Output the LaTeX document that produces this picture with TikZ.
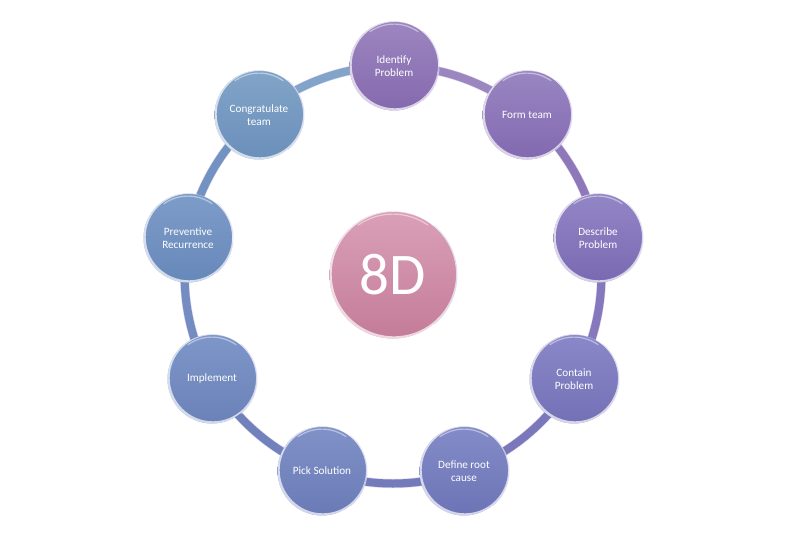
\documentclass[tikz,border=0pt]{standalone}
\usepackage{fontspec}
\setmainfont{Carlito}
\usetikzlibrary{backgrounds}
\definecolor{cIdT}{HTML}{9C86C0}\definecolor{cIdB}{HTML}{8569AE}
\definecolor{cFoT}{HTML}{9A86C2}\definecolor{cFoB}{HTML}{8269B0}
\definecolor{cDeT}{HTML}{9386C6}\definecolor{cDeB}{HTML}{7A69B2}
\definecolor{cCoT}{HTML}{8A88C8}\definecolor{cCoB}{HTML}{7470B6}
\definecolor{cRoT}{HTML}{838CC8}\definecolor{cRoB}{HTML}{6D74B6}
\definecolor{cPiT}{HTML}{8092C8}\definecolor{cPiB}{HTML}{6A7AB6}
\definecolor{cImT}{HTML}{7E96C8}\definecolor{cImB}{HTML}{6A82B8}
\definecolor{cPrT}{HTML}{7E9CC8}\definecolor{cPrB}{HTML}{6688BA}
\definecolor{cCgT}{HTML}{82A4C8}\definecolor{cCgB}{HTML}{6A8FBA}
\definecolor{cHubT}{HTML}{DAA0B8}\definecolor{cHubB}{HTML}{C47C98}
\definecolor{rimLight}{HTML}{DAD6F0}
\newcommand{\shine}[2]{%
  \fill[white,opacity=.7,even odd rule] (#1.center) circle[radius=#2]
    ([shift={(.9,-.9)}]#1.center) circle[radius=#2-1.3];
  \draw[rimarc,line width=1.2pt,opacity=.45] (#1.center) ++(305:#2-2.6) arc[start angle=305,end angle=235,radius=#2-2.6];
  \draw[rimarc,line width=1pt,draw=rimLight,opacity=.8] (#1.center) ++(-50:#2+.5) arc[start angle=-50,end angle=50,radius=#2+.5];
}
\tikzset{
  x=1pt,y=-1pt,
  disc/.style n args={2}{circle,minimum size=89pt,inner sep=0pt,
    top color=#1,bottom color=#2,text=white,align=center,
    font=\fontsize{11.2}{13}\selectfont},
  hub/.style={disc={cHubT}{cHubB},minimum size=127pt,font=\fontsize{59}{59}\selectfont},
  link/.style={line width=.6pt,double distance=8pt,draw=rimLight,line cap=butt,bend left=20,looseness=.88},
  rimarc/.style={draw=white,line cap=round},
}
\begin{document}
\begin{tikzpicture}
\useasboundingbox (0,0) rectangle (800,533);
\node[disc={cIdT}{cIdB}] (n1) at (394,66) {Identify\\Problem};
\node[disc={cFoT}{cFoB}] (n2) at (527,115) {Form team};
\node[disc={cDeT}{cDeB}] (n3) at (598,238) {Describe\\Problem};
\node[disc={cCoT}{cCoB}] (n4) at (574,379) {Contain\\Problem};
\node[disc={cRoT}{cRoB}] (n5) at (464,471) {Define root\\cause};
\node[disc={cPiT}{cPiB}] (n6) at (322,471) {Pick Solution};
\node[disc={cImT}{cImB}] (n7) at (212,379) {Implement};
\node[disc={cPrT}{cPrB}] (n8) at (188,238) {Preventive\\Recurrence};
\node[disc={cCgT}{cCgB}] (n9) at (259,115) {Congratulate\\team};
\node[hub] (hub) at (393,275) {\raisebox{2pt}{8D}};
\begin{scope}[on background layer]
\draw[link,double=cIdT] (n1.center) to (n2.center);
\draw[link,double=cFoT!50!cFoB] (n2.center) to (n3.center);
\draw[link,double=cDeT!50!cDeB] (n3.center) to (n4.center);
\draw[link,double=cCoT!30!cCoB] (n4.center) to (n5.center);
\draw[link,double=cRoT!30!cRoB] (n5.center) to (n6.center);
\draw[link,double=cPiT!30!cPiB] (n6.center) to (n7.center);
\draw[link,double=cImT!50!cImB] (n7.center) to (n8.center);
\draw[link,double=cPrT!50!cPrB] (n8.center) to (n9.center);
\draw[link,double=cCgT] (n9.center) to (n1.center);
\end{scope}
\shine{n1}{44.5}\shine{n2}{44.5}\shine{n3}{44.5}\shine{n4}{44.5}\shine{n5}{44.5}
\shine{n6}{44.5}\shine{n7}{44.5}\shine{n8}{44.5}\shine{n9}{44.5}\shine{hub}{63.5}
\end{tikzpicture}
\end{document}
